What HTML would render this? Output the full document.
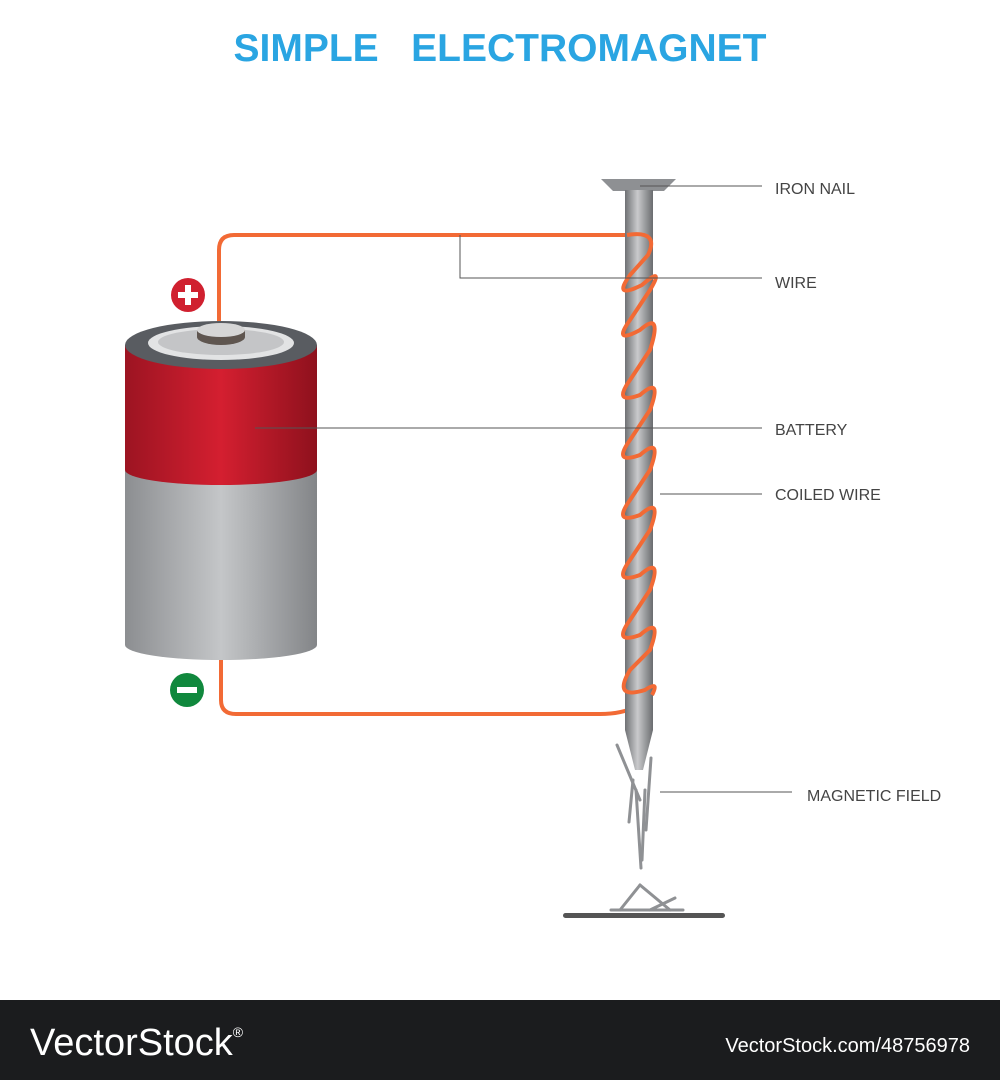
<!DOCTYPE html>
<html><head><style>
body{margin:0;width:1000px;height:1080px;background:#fff;overflow:hidden;font-family:"Liberation Sans",sans-serif}
</style></head><body>
<svg width="1000" height="1080" viewBox="0 0 1000 1080" xmlns="http://www.w3.org/2000/svg">
<defs>
<linearGradient id="red" x1="0" x2="1" y1="0" y2="0">
<stop offset="0" stop-color="#9c1422"/><stop offset="0.5" stop-color="#d41f30"/><stop offset="1" stop-color="#8e111d"/></linearGradient>
<linearGradient id="gray" x1="0" x2="1">
<stop offset="0" stop-color="#8c8e91"/><stop offset="0.5" stop-color="#c4c6c8"/><stop offset="1" stop-color="#838588"/></linearGradient>
<linearGradient id="nail" x1="0" x2="1">
<stop offset="0" stop-color="#6f7174"/><stop offset="0.45" stop-color="#c9cacc"/><stop offset="1" stop-color="#6a6c6f"/></linearGradient>
</defs>
<text x="500" y="61" text-anchor="middle" font-size="39" font-weight="bold" fill="#2aa5e2" xml:space="preserve">SIMPLE   ELECTROMAGNET</text>

<path d="M219 325 V250 Q219 235 234 235 H627" fill="none" stroke="#f26a35" stroke-width="4"/>
<path d="M221 655 V700 Q221 714 236 714 H600 Q640 714 652 690" fill="none" stroke="#f26a35" stroke-width="4"/>

<path d="M125 345 V645 A96 15 0 0 0 317 645 V345 Z" fill="url(#gray)"/>
<path d="M125 345 V470 A96 15 0 0 0 317 470 V345 Z" fill="url(#red)"/>
<ellipse cx="221" cy="345" rx="96" ry="24" fill="#595c61"/>
<ellipse cx="221" cy="343" rx="73" ry="17" fill="#e2e3e4"/>
<ellipse cx="221" cy="342" rx="63" ry="13" fill="#c4c5c7"/>
<path d="M197 330 V337 A24 8 0 0 0 245 337 V330 Z" fill="#5f5650"/>
<ellipse cx="221" cy="330" rx="24" ry="7" fill="#d6d6d6"/>
<circle cx="188" cy="295" r="17" fill="#d0202f"/>
<rect x="178" y="292" width="20" height="6" fill="#fff"/><rect x="185" y="285" width="6" height="20" fill="#fff"/>
<circle cx="187" cy="690" r="17" fill="#10883d"/>
<rect x="177" y="687" width="20" height="6" fill="#fff"/>

<path d="M601 179 H676 L664 191 H613 Z" fill="#8e9093"/>
<path d="M625 190 H653 V730 L643 770 H635 L625 730 Z" fill="url(#nail)"/>
<path d="M627 235 Q660 230 648 255 L630 275 Q612 300 642 285 Q665 265 650 290 L630 320 Q612 345 640 330 Q663 310 650 350 L630 380 Q612 405 640 395 Q663 375 650 410 L630 440 Q612 465 640 455 Q663 435 650 470 L630 500 Q612 525 640 515 Q663 495 650 530 L630 560 Q612 585 640 575 Q663 555 650 590 L630 620 Q612 645 640 635 Q663 615 650 650 L630 670 Q612 700 645 690 Q660 680 652 695" fill="none" stroke="#f26a35" stroke-width="4"/>
<g stroke="#8f9194" stroke-width="3" fill="none" stroke-linecap="round">
<path d="M617 745 L640 800"/><path d="M651 758 L646 830"/><path d="M633 780 L629 822"/><path d="M636 790 L641 868"/><path d="M645 790 L642 860"/>
<path d="M611 910 H683"/><path d="M640 885 L620 910"/><path d="M640 885 L670 910"/><path d="M650 910 L675 898"/>
</g>
<rect x="563" y="913" width="162" height="5" rx="2.5" fill="#555"/>

<g stroke="#555" stroke-width="1" fill="none">
<path d="M640 186 H762"/><path d="M460 235 V278 H762"/><path d="M255 428 H762"/><path d="M660 494 H762"/><path d="M660 792 H792"/>
</g>
<g font-size="16" fill="#444">
<text x="775" y="194">IRON NAIL</text><text x="775" y="288">WIRE</text><text x="775" y="435">BATTERY</text><text x="775" y="500">COILED WIRE</text><text x="807" y="801">MAGNETIC FIELD</text>
</g>

<rect x="0" y="1000" width="1000" height="80" fill="#1b1c1e"/>
<text x="30" y="1055" font-size="38" fill="#fff">VectorStock<tspan font-size="14" dy="-18">®</tspan></text>
<text x="970" y="1052" font-size="20" fill="#fff" text-anchor="end">VectorStock.com/48756978</text>
</svg>
</body></html>
